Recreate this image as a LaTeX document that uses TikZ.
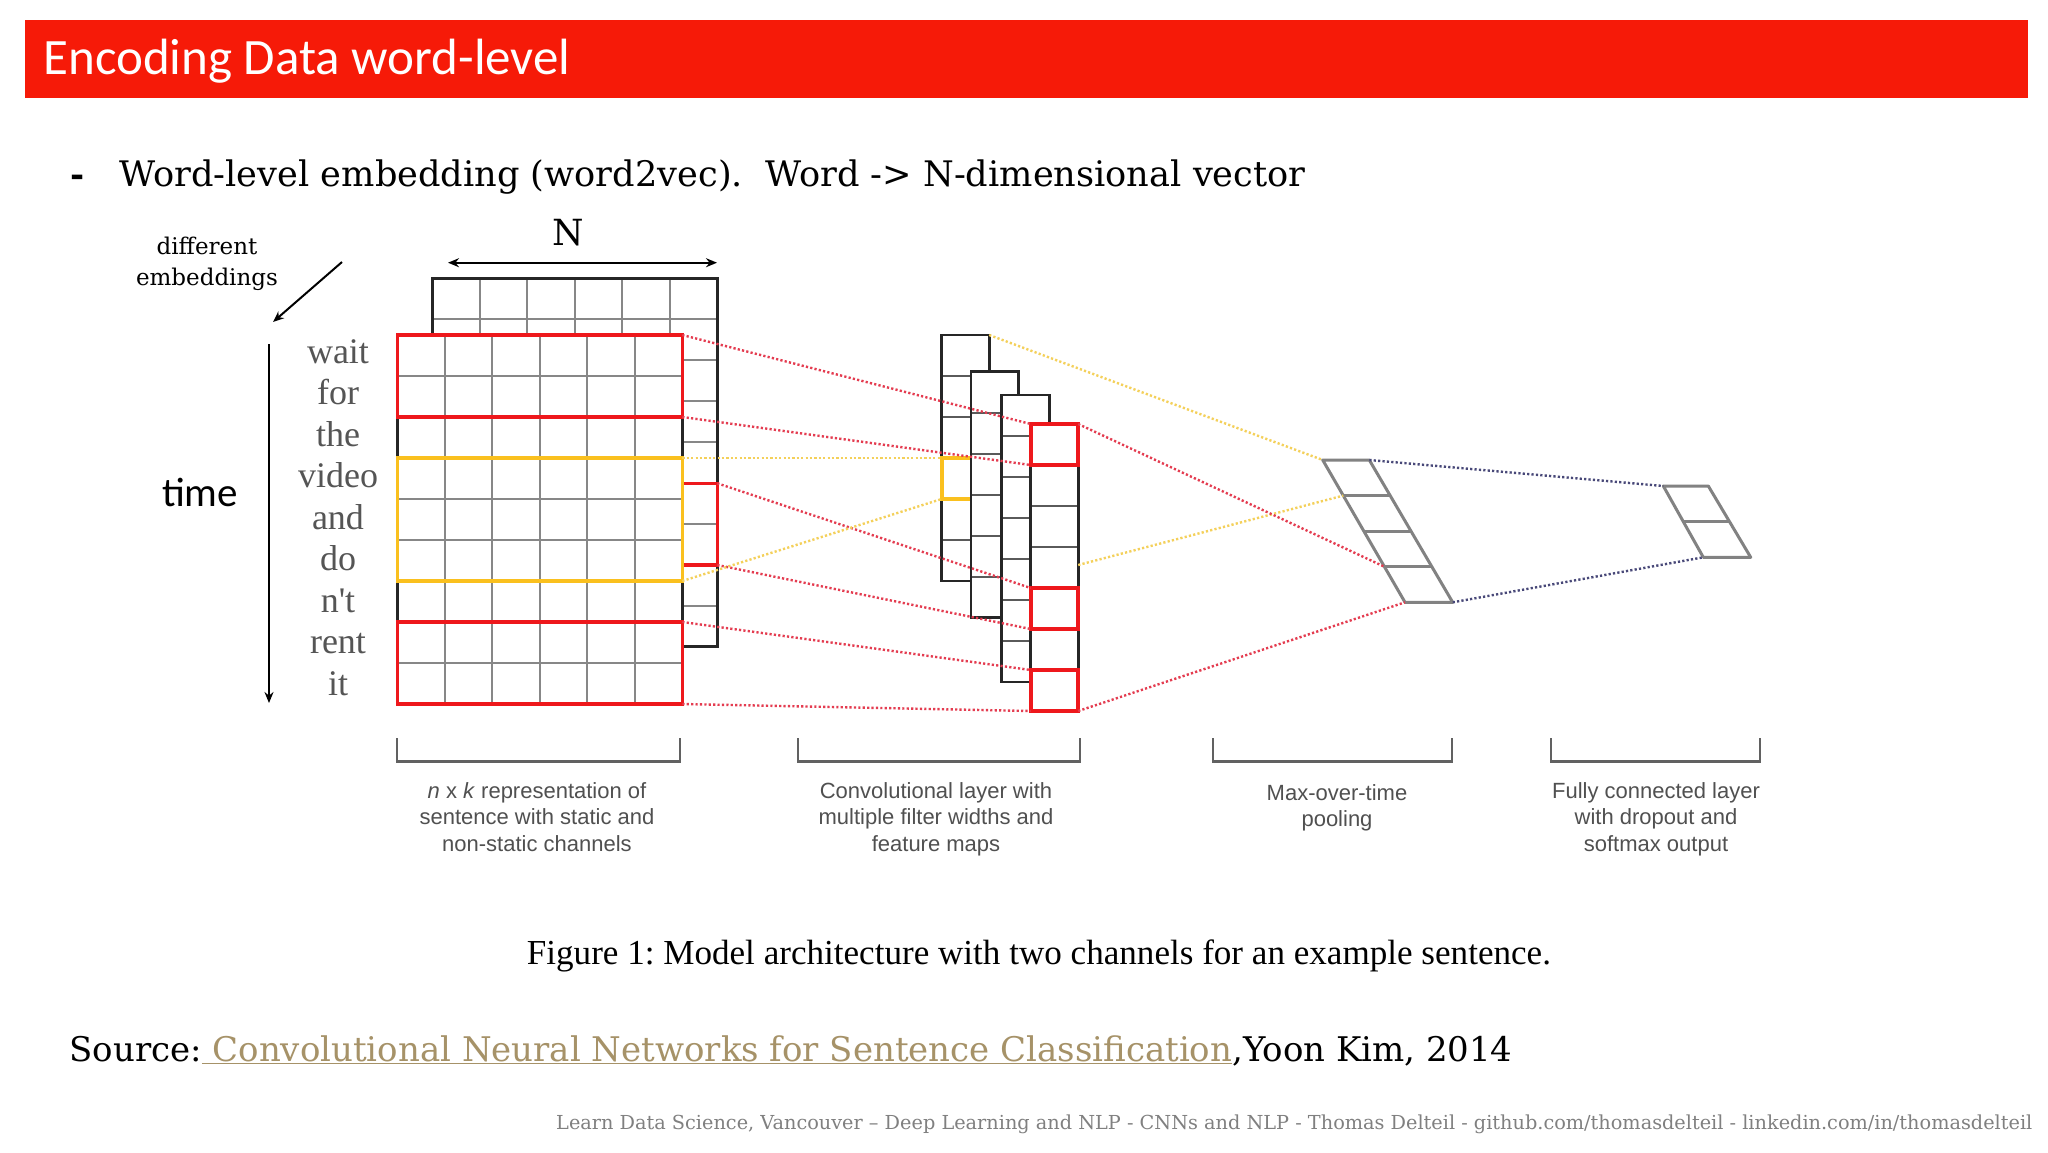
\documentclass[tikz,border=0pt]{standalone}
\usepackage{fontspec}
\setmainfont{Liberation Serif}
\newfontfamily\rockf{DejaVu Serif}
\newfontfamily\calibf{Carlito}
\newfontfamily\helvf{Liberation Sans}
\usetikzlibrary{arrows.meta,calc}
\definecolor{titlered}{RGB}{246,26,8}
\definecolor{boxred}{RGB}{238,24,28}
\definecolor{boxyel}{RGB}{250,192,30}
\definecolor{dotred}{RGB}{228,60,80}
\definecolor{dotyel}{RGB}{244,208,90}
\definecolor{dotblue}{RGB}{72,72,120}
\definecolor{gridgray}{RGB}{135,135,135}
\definecolor{mapgray}{RGB}{90,90,90}
\definecolor{poolgray}{RGB}{130,130,130}
\definecolor{labgray}{RGB}{80,80,80}
\definecolor{wordgray}{RGB}{85,85,85}
\definecolor{linktan}{RGB}{166,146,104}
\definecolor{footgray}{RGB}{128,128,128}
\newcommand\fmap[3]{%
  \fill[white] (#1,#2) rectangle ++(47.5,#3*41);
  \pgfmathtruncatemacro\mapn{#3-1}
  \foreach \k in {1,...,\mapn} \draw[mapin] (#1,#2+\k*41) -- ++(47.5,0);
  \draw[gout] (#1,#2) rectangle ++(47.5,#3*41);}
\begin{document}
\begin{tikzpicture}[x=1pt,y=-1pt,
  gin/.style={draw=gridgray,line width=2pt},
  mapin/.style={draw=mapgray,line width=2pt},
  gout/.style={draw=black!85,line width=2.6pt},
  redbox/.style={draw=boxred,line width=3.6pt},
  yelbox/.style={draw=boxyel,line width=3.6pt},
  dotline/.style={line width=2.4pt,dash pattern=on 2.2pt off 2.2pt},
  dred/.style={dotline,draw=dotred},
  dyel/.style={dotline,draw=dotyel},
  dblue/.style={dotline,draw=dotblue},
  pool/.style={draw=poolgray,line width=3pt,line join=round},
  brk/.style={draw=labgray!90,line width=2.4pt},
  lab/.style={anchor=north,align=center,inner sep=0pt,text=labgray,font=\helvf\fontsize{22}{26.7}\selectfont},
  word/.style={anchor=base,inner sep=0pt,text=wordgray,font=\fontsize{36}{40}\selectfont},
  arr/.style={line width=2pt,-{Stealth[length=11pt,width=9pt]}}
]
\useasboundingbox (0,0) rectangle (2048,1152);
\fill[white] (0,0) rectangle (2048,1152);

% title bar
\node (bar) [fill=titlered,inner sep=0pt,minimum width=2003pt,minimum height=78pt,anchor=north west] at (25,19.3) {};
\node (title) [anchor=base west,inner sep=0pt,text=white,font=\calibf\fontsize{50}{60}\selectfont] at (43.3,74) {\resizebox{527pt}{!}{Encoding Data word-level}};

% bullet
\node (dash) [anchor=base west,inner sep=0pt,font=\rockf\bfseries\fontsize{34}{40}\selectfont] at (70,186.7) {-};
\node (bullet) [anchor=base west,inner sep=0pt,font=\rockf\fontsize{34}{40}\selectfont] at (119.3,186.7) {\resizebox{1186pt}{!}{Word-level embedding (word2vec).\ \ Word -> N-dimensional vector}};

% N arrow
\node (N) [anchor=base,inner sep=0pt,font=\rockf\fontsize{36}{40}\selectfont] at (568,245.5) {N};
\coordinate (n0) at (448,262.7);
\coordinate (n1) at (717,262.7);
\draw[line width=2pt,{Stealth[length=11pt,width=9pt]}-{Stealth[length=11pt,width=9pt]}] (n0) -- (n1);

% different embeddings
\node (diff) [anchor=base,inner sep=0pt,align=center,font=\rockf\fontsize{23}{31}\selectfont] at (207,285) {different\\embeddings};
\coordinate (d0) at (342,262);
\coordinate (d1) at (273,322);
\draw[arr] (d0) -- (d1);

% time
\node (time) [anchor=base,inner sep=0pt,font=\calibf\fontsize{41}{44}\selectfont] at (200,506) {time};
\coordinate (t0) at (269,344);
\coordinate (t1) at (269,703);
\draw[arr] (t0) -- (t1);

% words
\foreach \w [count=\i from 0] in {wait,for,the,video,and,do,n\textquotesingle t,rent,it}
  \node (w\i) [word] at (338,363.3+41.5*\i) {\w};

% back grid
\fill[white] (432.3,278.3) rectangle (717.3,646.7);
\foreach \i in {1,...,5} \draw[gin] (432.3+\i*47.5,278.3) -- (432.3+\i*47.5,646.7);
\foreach \j in {1,...,8} \draw[gin] (432.3,278.3+\j*40.93) -- (717.3,278.3+\j*40.93);
\draw[gout] (432.3,278.3) rectangle (717.3,646.7);
\draw[redbox] (682.3,483.3) -- (717.3,483.3) -- (717.3,565) -- (682.3,565);

% front grid
\fill[white] (397.3,335) rectangle (682.3,704);
\foreach \i in {1,...,5} \draw[gin] (397.3+\i*47.5,335) -- (397.3+\i*47.5,704);
\foreach \j in {1,...,8} \draw[gin] (397.3,335+\j*41) -- (682.3,335+\j*41);
\draw[gout] (397.3,335) rectangle (682.3,704);
\draw[redbox] (397.3,335) rectangle (682.3,417);
\draw[yelbox] (397.3,458) rectangle (682.3,581);
\draw[redbox] (397.3,622) rectangle (682.3,704);

% feature maps
\fmap{941.7}{335}{6}
\draw[yelbox] (941.7,458) rectangle ++(47.5,41);
\fmap{971}{371.7}{6}
\fmap{1001.7}{395}{7}
\fmap{1030.7}{424}{7}
\draw[redbox] (1030.7,424) rectangle ++(47.5,41);
\draw[redbox] (1030.7,588) rectangle ++(47.5,41);
\draw[redbox] (1030.7,670) rectangle ++(47.5,41);

% pooling
\coordinate (p1) at (1322.7,460);
\coordinate (p2) at (1369.3,460);
\coordinate (p3) at (1452.7,602.3);
\coordinate (p4) at (1405,602.3);
\foreach \f in {0.25,0.5,0.75} \draw[pool] ($(p1)!\f!(p4)$) -- ($(p2)!\f!(p3)$);
\draw[pool] (p1) -- (p2) -- (p3) -- (p4) -- cycle;
\coordinate (pq1) at ($(p1)!0.25!(p4)$);
\coordinate (pq3) at ($(p1)!0.75!(p4)$);

% fully connected
\coordinate (f1) at (1663.3,486);
\coordinate (f2) at (1708.3,486);
\coordinate (f3) at (1750.7,557.3);
\coordinate (f4) at (1703.3,557.3);
\draw[pool] ($(f1)!0.5!(f4)$) -- ($(f2)!0.5!(f3)$);
\draw[pool] (f1) -- (f2) -- (f3) -- (f4) -- cycle;

% connector end points
\coordinate (g1) at (682.3,335);
\coordinate (g2) at (682.3,417);
\coordinate (gy1) at (682.3,458);
\coordinate (gy2) at (682.3,581);
\coordinate (g3) at (682.3,622);
\coordinate (g4) at (682.3,704);
\coordinate (b1) at (717.3,483.3);
\coordinate (b2) at (717.3,565);
\coordinate (m1) at (1030.7,424);
\coordinate (m2) at (1030.7,465);
\coordinate (m3) at (1030.7,588);
\coordinate (m4) at (1030.7,629);
\coordinate (m5) at (1030.7,670);
\coordinate (m6) at (1030.7,711);
\coordinate (y0) at (989.2,335);
\coordinate (y1) at (941.7,458);
\coordinate (y2) at (941.7,499);
\coordinate (r1) at (1078.2,424);
\coordinate (r2) at (1078.2,565);
\coordinate (r3) at (1078.2,711);

\draw[dred] (g1) -- (m1);
\draw[dred] (g2) -- (m2);
\draw[dred] (b1) -- (m3);
\draw[dred] (b2) -- (m4);
\draw[dred] (g3) -- (m5);
\draw[dred] (g4) -- (m6);
\draw[dyel] (gy1) -- (y1);
\draw[dyel] (gy2) -- (y2);
\draw[dyel] (y0) -- (p1);
\draw[dyel] (r2) -- (pq1);
\draw[dred] (r1) -- (pq3);
\draw[dred] (r3) -- (p4);
\draw[dblue] (p2) -- (f1);
\draw[dblue] (p3) -- (f4);

% brackets
\draw[brk] (397,738) -- (397,761.5) -- (680,761.5) -- (680,738);
\draw[brk] (798,738) -- (798,761.5) -- (1080,761.5) -- (1080,738);
\draw[brk] (1213,738) -- (1213,761.5) -- (1452,761.5) -- (1452,738);
\draw[brk] (1551,738) -- (1551,761.5) -- (1760,761.5) -- (1760,738);

\node (lab1) [lab] at (537,782) {\textit{n} x \textit{k} representation of\\sentence with static and\\non-static channels};
\node (lab2) [lab] at (936,782) {Convolutional layer with\\multiple filter widths and\\feature maps};
\node (lab3) [lab] at (1337,784) {Max-over-time\\pooling};
\node (lab4) [lab] at (1656,782) {Fully connected layer\\with dropout and\\softmax output};

% caption
\node (cap) [anchor=base west,inner sep=0pt,font=\fontsize{30}{34}\selectfont] at (526.7,964) {\resizebox{1024pt}{!}{Figure 1:\ Model architecture with two channels for an example sentence.}};

% source
\node (src) [anchor=base west,inner sep=0pt,font=\rockf\fontsize{34}{40}\selectfont] at (69.3,1061.7) {\resizebox{1443pt}{!}{Source:\textcolor{linktan}{\underline{\ Convolutional Neural Networks for Sentence Classification}},Yoon Kim, 2014}};

% footer
\node (foot) [anchor=base west,inner sep=0pt,text=footgray,font=\rockf\fontsize{19}{22}\selectfont] at (556,1129) {\resizebox{1476pt}{!}{Learn Data Science, Vancouver – Deep Learning and NLP - CNNs and NLP - Thomas Delteil - github.com/thomasdelteil - linkedin.com/in/thomasdelteil}};
\end{tikzpicture}
\end{document}
